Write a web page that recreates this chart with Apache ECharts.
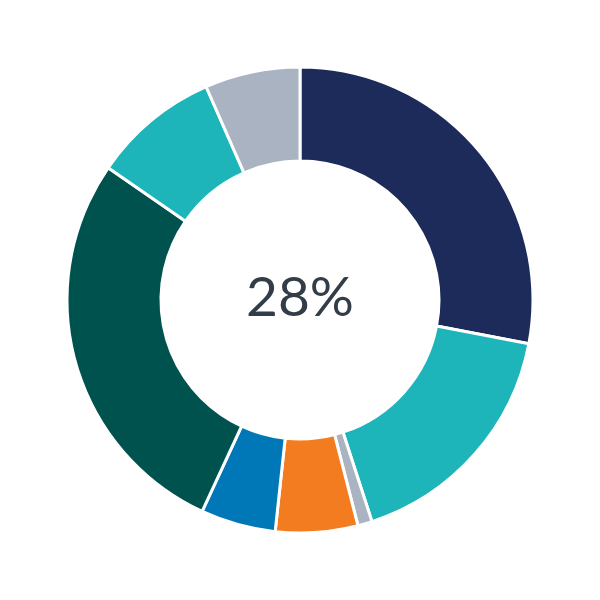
<!DOCTYPE html>
<html>
<head>
<meta charset="utf-8">
<script src="https://cdn.jsdelivr.net/npm/echarts@6/dist/echarts.min.js"></script>
<style>
  html, body { margin: 0; padding: 0; background: #fff; }
  #chart { width: 600px; height: 600px; }
</style>
</head>
<body>
<div id="chart"></div>
<script>
  // slice shares, clockwise from 12 o'clock
  const names = ['A', 'B', 'C', 'D', 'E', 'F', 'G', 'H']
  const values = [28, 17, 1, 5.7, 5.2, 27.7, 8.8, 6.6]
  const colors = ['#1c2b5a', '#1db5b9', '#a9b3c1', '#f47c20', '#0077b6', '#00524f', '#1db5b9', '#a9b3c1']
  const centerText = '28%'

  let chart = echarts.init(document.getElementById('chart'))
  let data = values.map((v, i) => ({
    name: names[i],
    value: v,
    itemStyle: { color: colors[i] }
  }))
  let option = {
    animation: false,
    title: {
      text: centerText,
      left: 'center',
      top: 266,
      textStyle: {
        fontFamily: 'Lato',
        fontWeight: 'normal',
        fontSize: 55,
        color: '#333d48'
      }
    },
    series: [{
      type: 'pie',
      center: [300, 300],
      radius: [139, 233],
      startAngle: 90,
      clockwise: true,
      label: { show: false },
      labelLine: { show: false },
      itemStyle: { borderColor: '#fff', borderWidth: 3 },
      data: data
    }]
  }
  chart.setOption(option)
</script>
</body>
</html>
